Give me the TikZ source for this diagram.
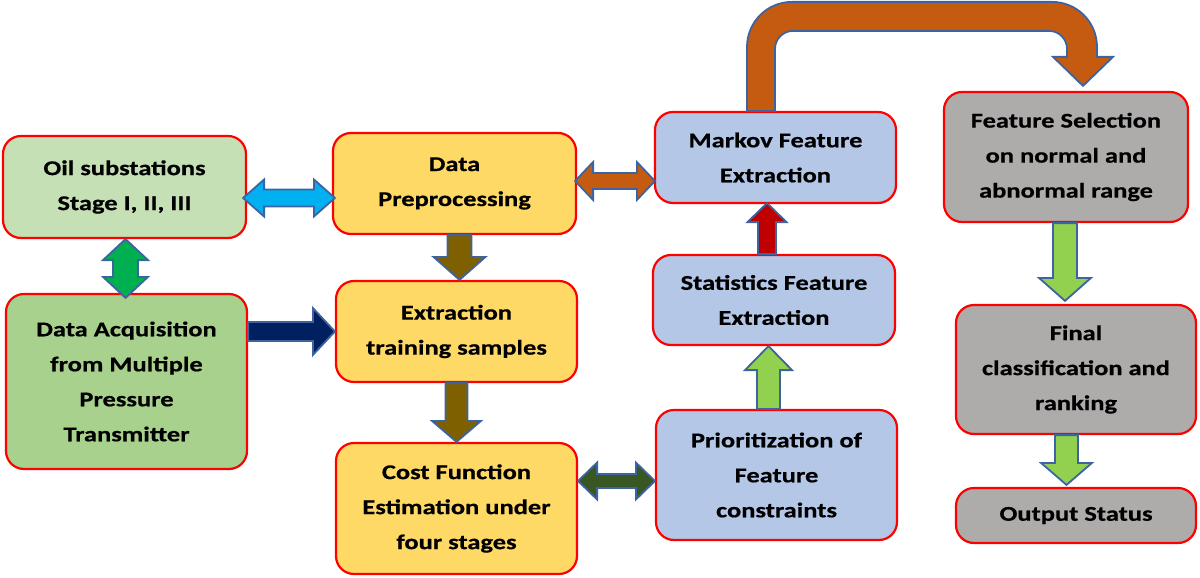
\documentclass[tikz,border=0pt]{standalone}
\usepackage{fontspec}
\setmainfont{Carlito}
\newfontfamily\boxfont{Carlito}[FakeStretch=1.26, FakeBold=0.6]
\usetikzlibrary{calc}

\definecolor{oilgreen}{HTML}{C5E0B4}
\definecolor{acqgreen}{HTML}{A9D18E}
\definecolor{prepyellow}{HTML}{FFD966}
\definecolor{featblue}{HTML}{B4C7E7}
\definecolor{selgrey}{HTML}{AEABAB}
\definecolor{boxred}{HTML}{FF0000}
\definecolor{arrline}{HTML}{3D63A0}
\definecolor{skyblue}{HTML}{00B0F0}
\definecolor{okgreen}{HTML}{00B050}
\definecolor{navy}{HTML}{002060}
\definecolor{olive}{HTML}{7F6000}
\definecolor{rust}{HTML}{C55A11}
\definecolor{forest}{HTML}{385723}
\definecolor{darkred}{HTML}{C00000}
\definecolor{lime}{HTML}{92D050}

\tikzset{
  box/.style={draw=boxred, line width=2.2pt, rounded corners=18pt,
    align=center, inner sep=0pt,
    font=\boxfont\bfseries\fontsize{21}{35}\selectfont},
  size/.style 2 args={minimum width=#1, minimum height=#2},
  blkline/.style={draw=arrline, line width=1.8pt, line join=miter}
}

% point a along the arrow, b across it
\newcommand{\arpt}[2]{({\x1+(#1)*\n2-(#2)*\n3},{\y1+(#1)*\n3+(#2)*\n2})}

% block arrow: fill, half shaft, half head, head length, from, to
\newcommand{\blkarrow}[6]{%
  \filldraw[blkline, fill=#1] let \p1=(#5), \p2=(#6),
    \n1={veclen(\x2-\x1,\y2-\y1)}, \n2={(\x2-\x1)/\n1}, \n3={(\y2-\y1)/\n1} in
    \arpt{0}{-#2} -- \arpt{\n1-#4}{-#2} -- \arpt{\n1-#4}{-#3} -- (\p2)
    -- \arpt{\n1-#4}{#3} -- \arpt{\n1-#4}{#2} -- \arpt{0}{#2} -- cycle;}

% double block arrow: fill, half shaft, half head, head length, from, to
\newcommand{\dblarrow}[6]{%
  \filldraw[blkline, fill=#1] let \p1=(#5), \p2=(#6),
    \n1={veclen(\x2-\x1,\y2-\y1)}, \n2={(\x2-\x1)/\n1}, \n3={(\y2-\y1)/\n1} in
    (\p1) -- \arpt{#4}{#3} -- \arpt{#4}{#2} -- \arpt{\n1-#4}{#2} -- \arpt{\n1-#4}{#3}
    -- (\p2) -- \arpt{\n1-#4}{-#3} -- \arpt{\n1-#4}{-#2} -- \arpt{#4}{-#2}
    -- \arpt{#4}{-#3} -- cycle;}

\begin{document}
\begin{tikzpicture}[x=1pt, y=1pt]
  \useasboundingbox (0,0) rectangle (1200,-578);

  % Draw the input boxes
  \node[box, fill=oilgreen, size={243pt}{102pt}] (oil) at (124.5,-187) {Oil substations\\Stage I, II, III};
  \node[box, fill=acqgreen, size={241pt}{175pt}] (acq) at (126.5,-381.5) {Data Acquisition\\from Multiple\\Pressure\\Transmitter};

  % Draw the processing column
  \node[box, fill=prepyellow, size={243pt}{101pt}] (prep) at (454.5,-183.5) {Data\\Preprocessing};
  \node[box, fill=prepyellow, size={241pt}{101pt}] (extr) at (456.5,-331.5) {Extraction\\training samples};
  \node[box, fill=prepyellow, size={241pt}{131pt}] (cost) at (456.5,-508.5) {Cost Function\\Estimation under\\four stages};

  % Draw the feature column
  \node[box, fill=featblue, size={241pt}{91pt}] (markov) at (775.5,-157.5) {Markov Feature\\Extraction};
  \node[box, fill=featblue, size={242pt}{90pt}] (stat) at (774,-300) {Statistics Feature\\Extraction};
  \node[box, fill=featblue, size={241pt}{130pt}] (prio) at (776.5,-475) {Prioritization of\\Feature\\constraints};

  % Draw the output column
  \node[box, fill=selgrey, size={244pt}{130pt}] (fsel) at (1066,-157) {Feature Selection\\on normal and\\abnormal range};
  \node[box, fill=selgrey, size={240pt}{129pt}] (final) at (1076,-369.5) {Final\\classification and\\ranking};
  \node[box, fill=selgrey, size={240pt}{55pt}] (output) at (1076,-515.5) {Output Status};

  % Draw the block arrows between the boxes
  \dblarrow{okgreen}{12.5}{22.5}{21}{$(oil.south)+(1,0)$}{$(oil.south |- acq.north)+(1,-5)$}
  \dblarrow{skyblue}{8.5}{18.5}{21}{$(oil.east)+(-4,-11)$}{$(oil.east -| prep.west)+(3,-11)$}
  \blkarrow{navy}{9.5}{23.5}{22}{acq.east |- extr.west}{extr.west}
  \blkarrow{olive}{12}{26}{23}{$(prep.south)+(5,0)$}{$(prep.south |- extr.north)+(5,0)$}
  \blkarrow{olive}{11}{24.5}{21}{extr.south}{extr.south |- cost.north}
  \dblarrow{rust}{8}{19}{18}{$(prep.east)+(-2,2.5)$}{$(prep.east -| markov.west)+(1,2.5)$}
  \dblarrow{forest}{7}{18.5}{19}{$(prio.west -| cost.east)+(0,-6)$}{$(prio.west)+(0,-6)$}
  \blkarrow{darkred}{9}{19.5}{19}{$(stat.north)+(-7,0)$}{$(stat.north |- markov.south)+(-7,1)$}
  \blkarrow{lime}{11.5}{23.5}{24}{$(prio.north)+(-8,0)$}{$(prio.north |- stat.south)+(-8,0)$}
  \blkarrow{lime}{12}{26}{23}{$(fsel.south)+(-1,0)$}{$(fsel.south |- final.north)+(-1,3)$}
  \blkarrow{lime}{11.5}{25.5}{22}{$(final.south)+(-9.5,0)$}{$(final.south |- output.north)+(-9.5,2)$}

  % Draw the bent arrow from Markov to the feature selection
  \filldraw[blkline, fill=rust] let \p1=(markov.north), \p2=(fsel.north) in
    ({\x1-28.5pt},\y1) -- ({\x1-28.5pt},{\y1+64pt})
    arc[start angle=180, end angle=90, radius=45pt] -- ({\x2-14pt},{\y1+109pt})
    arc[start angle=90, end angle=0, radius=45pt] -- ({\x2+31pt},{\y2+34pt})
    -- ({\x2+47pt},{\y2+34pt}) -- ({\x2+17pt},{\y2+5pt}) -- ({\x2-13pt},{\y2+34pt})
    -- ({\x2+1pt},{\y2+34pt}) -- ({\x2+1pt},{\y1+62pt})
    arc[start angle=0, end angle=90, radius=18pt] -- ({\x1+17.5pt},{\y1+80pt})
    arc[start angle=90, end angle=180, radius=18pt] -- ({\x1-0.5pt},\y1) -- cycle;
\end{tikzpicture}
\end{document}
